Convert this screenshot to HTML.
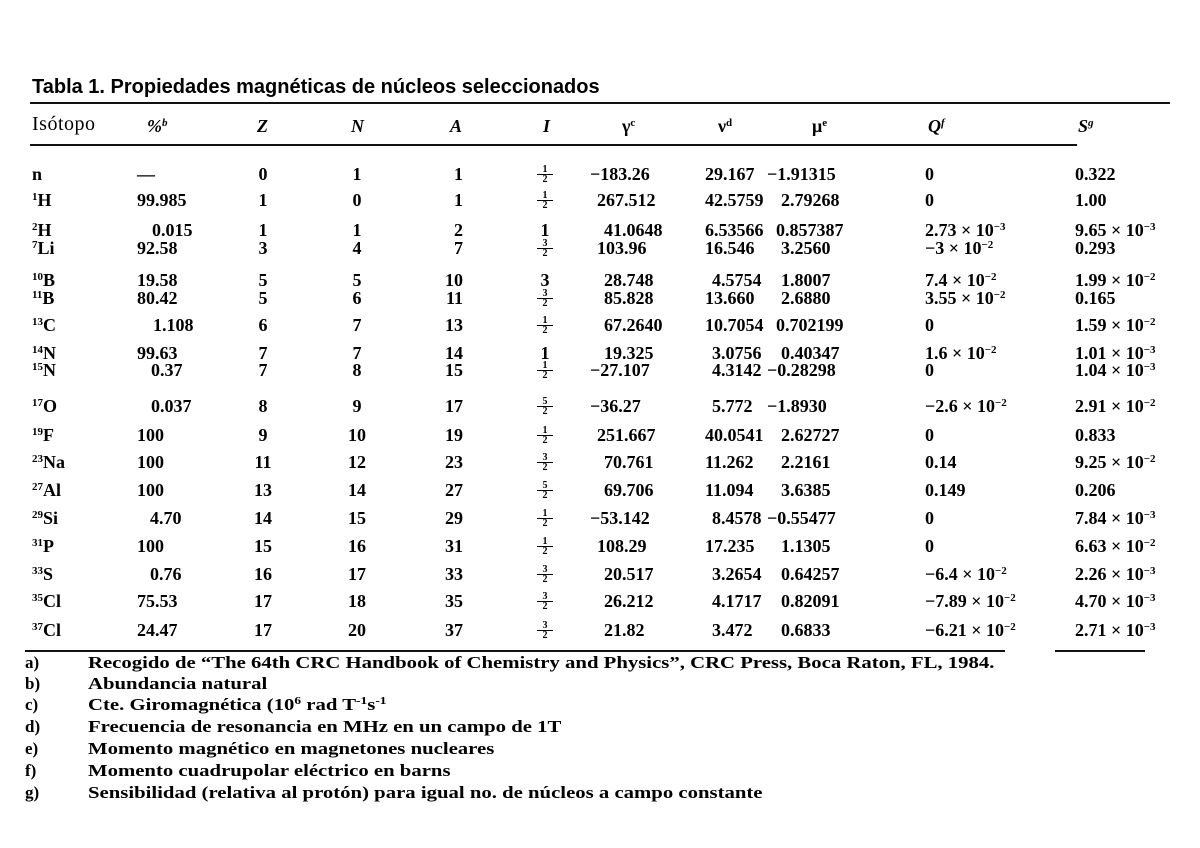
<!DOCTYPE html>
<html><head><meta charset="utf-8"><style>
body{margin:0;background:#fff;}
#c{position:relative;width:1200px;height:848px;background:#fff;overflow:hidden;font-family:"Liberation Serif",serif;font-weight:bold;font-size:18px;color:#000;}
#c div{position:absolute;white-space:nowrap;line-height:18px;}
.r{left:0;width:1200px;height:18px;}
.r span{position:absolute;top:0;white-space:nowrap;}
.z{left:243px;width:40px;text-align:center}
.n{left:337px;width:40px;text-align:center}
.a{left:423px;width:40px;text-align:right}
.f{left:537px;width:16px;text-align:center;font-size:10px;line-height:9px;}
.f b{display:block;border-top:1px solid #000;}
sup{font-size:11px;vertical-align:6px;line-height:0}
.ln{height:0;border-top:2px solid #111;}
.fn{font-size:17px;transform:scaleX(1.22);transform-origin:left;line-height:22px !important;}
.fl{font-size:17px;line-height:22px !important;}
</style></head><body><div id="c">
<div style="left:32px;top:78px;font-family:'Liberation Sans',sans-serif;font-size:20px;">Tabla 1. Propiedades magnéticas de núcleos seleccionados</div>
<div class="ln" style="left:30px;top:102px;width:1140px;"></div>
<div style="left:32px;top:115px;font-weight:normal;font-size:20px;letter-spacing:0.5px">Isótopo</div>
<div style="left:147px;top:117px;font-style:italic">%<sup>b</sup></div>
<div style="left:257px;top:117px;font-style:italic">Z</div>
<div style="left:351px;top:117px;font-style:italic">N</div>
<div style="left:450px;top:117px;font-style:italic">A</div>
<div style="left:543px;top:117px;font-style:italic">I</div>
<div style="left:622px;top:117px;">γ<sup>c</sup></div>
<div style="left:718px;top:117px;">ν<sup>d</sup></div>
<div style="left:812px;top:117px;">μ<sup>e</sup></div>
<div style="left:928px;top:117px;font-style:italic">Q<sup>f</sup></div>
<div style="left:1078px;top:117px;font-style:italic">S<sup>g</sup></div>
<div class="ln" style="left:30px;top:144px;width:1047px;"></div>

<div class="r" style="top:165px"><span style="left:32px">n</span><span style="left:137px">—</span><span class="z">0</span><span class="n">1</span><span class="a">1</span><span class="f">1<b>2</b></span><span style="left:590px">−183.26</span><span style="left:705px">29.167</span><span style="left:767px">−1.91315</span><span style="left:925px">0</span><span style="left:1075px">0.322</span></div>
<div class="r" style="top:191px"><span style="left:32px"><sup>1</sup>H</span><span style="left:137px">99.985</span><span class="z">1</span><span class="n">0</span><span class="a">1</span><span class="f">1<b>2</b></span><span style="left:597px">267.512</span><span style="left:705px">42.5759</span><span style="left:781px">2.79268</span><span style="left:925px">0</span><span style="left:1075px">1.00</span></div>
<div class="r" style="top:221px"><span style="left:32px"><sup>2</sup>H</span><span style="left:152px">0.015</span><span class="z">1</span><span class="n">1</span><span class="a">2</span><span class="f" style="font-size:18px;line-height:18px">1</span><span style="left:604px">41.0648</span><span style="left:705px">6.53566</span><span style="left:776px">0.857387</span><span style="left:925px">2.73 × 10<sup>−3</sup></span><span style="left:1075px">9.65 × 10<sup>−3</sup></span></div>
<div class="r" style="top:239px"><span style="left:32px"><sup>7</sup>Li</span><span style="left:137px">92.58</span><span class="z">3</span><span class="n">4</span><span class="a">7</span><span class="f">3<b>2</b></span><span style="left:597px">103.96</span><span style="left:705px">16.546</span><span style="left:781px">3.2560</span><span style="left:925px">−3 × 10<sup>−2</sup></span><span style="left:1075px">0.293</span></div>
<div class="r" style="top:271px"><span style="left:32px"><sup>10</sup>B</span><span style="left:137px">19.58</span><span class="z">5</span><span class="n">5</span><span class="a">10</span><span class="f" style="font-size:18px;line-height:18px">3</span><span style="left:604px">28.748</span><span style="left:712px">4.5754</span><span style="left:781px">1.8007</span><span style="left:925px">7.4 × 10<sup>−2</sup></span><span style="left:1075px">1.99 × 10<sup>−2</sup></span></div>
<div class="r" style="top:289px"><span style="left:32px"><sup>11</sup>B</span><span style="left:137px">80.42</span><span class="z">5</span><span class="n">6</span><span class="a">11</span><span class="f">3<b>2</b></span><span style="left:604px">85.828</span><span style="left:705px">13.660</span><span style="left:781px">2.6880</span><span style="left:925px">3.55 × 10<sup>−2</sup></span><span style="left:1075px">0.165</span></div>
<div class="r" style="top:316px"><span style="left:32px"><sup>13</sup>C</span><span style="left:153px">1.108</span><span class="z">6</span><span class="n">7</span><span class="a">13</span><span class="f">1<b>2</b></span><span style="left:604px">67.2640</span><span style="left:705px">10.7054</span><span style="left:776px">0.702199</span><span style="left:925px">0</span><span style="left:1075px">1.59 × 10<sup>−2</sup></span></div>
<div class="r" style="top:344px"><span style="left:32px"><sup>14</sup>N</span><span style="left:137px">99.63</span><span class="z">7</span><span class="n">7</span><span class="a">14</span><span class="f" style="font-size:18px;line-height:18px">1</span><span style="left:604px">19.325</span><span style="left:712px">3.0756</span><span style="left:781px">0.40347</span><span style="left:925px">1.6 × 10<sup>−2</sup></span><span style="left:1075px">1.01 × 10<sup>−3</sup></span></div>
<div class="r" style="top:361px"><span style="left:32px"><sup>15</sup>N</span><span style="left:151px">0.37</span><span class="z">7</span><span class="n">8</span><span class="a">15</span><span class="f">1<b>2</b></span><span style="left:590px">−27.107</span><span style="left:712px">4.3142</span><span style="left:767px">−0.28298</span><span style="left:925px">0</span><span style="left:1075px">1.04 × 10<sup>−3</sup></span></div>
<div class="r" style="top:397px"><span style="left:32px"><sup>17</sup>O</span><span style="left:151px">0.037</span><span class="z">8</span><span class="n">9</span><span class="a">17</span><span class="f">5<b>2</b></span><span style="left:590px">−36.27</span><span style="left:712px">5.772</span><span style="left:767px">−1.8930</span><span style="left:925px">−2.6 × 10<sup>−2</sup></span><span style="left:1075px">2.91 × 10<sup>−2</sup></span></div>
<div class="r" style="top:426px"><span style="left:32px"><sup>19</sup>F</span><span style="left:137px">100</span><span class="z">9</span><span class="n">10</span><span class="a">19</span><span class="f">1<b>2</b></span><span style="left:597px">251.667</span><span style="left:705px">40.0541</span><span style="left:781px">2.62727</span><span style="left:925px">0</span><span style="left:1075px">0.833</span></div>
<div class="r" style="top:453px"><span style="left:32px"><sup>23</sup>Na</span><span style="left:137px">100</span><span class="z">11</span><span class="n">12</span><span class="a">23</span><span class="f">3<b>2</b></span><span style="left:604px">70.761</span><span style="left:705px">11.262</span><span style="left:781px">2.2161</span><span style="left:925px">0.14</span><span style="left:1075px">9.25 × 10<sup>−2</sup></span></div>
<div class="r" style="top:481px"><span style="left:32px"><sup>27</sup>Al</span><span style="left:137px">100</span><span class="z">13</span><span class="n">14</span><span class="a">27</span><span class="f">5<b>2</b></span><span style="left:604px">69.706</span><span style="left:705px">11.094</span><span style="left:781px">3.6385</span><span style="left:925px">0.149</span><span style="left:1075px">0.206</span></div>
<div class="r" style="top:509px"><span style="left:32px"><sup>29</sup>Si</span><span style="left:150px">4.70</span><span class="z">14</span><span class="n">15</span><span class="a">29</span><span class="f">1<b>2</b></span><span style="left:590px">−53.142</span><span style="left:712px">8.4578</span><span style="left:767px">−0.55477</span><span style="left:925px">0</span><span style="left:1075px">7.84 × 10<sup>−3</sup></span></div>
<div class="r" style="top:537px"><span style="left:32px"><sup>31</sup>P</span><span style="left:137px">100</span><span class="z">15</span><span class="n">16</span><span class="a">31</span><span class="f">1<b>2</b></span><span style="left:597px">108.29</span><span style="left:705px">17.235</span><span style="left:781px">1.1305</span><span style="left:925px">0</span><span style="left:1075px">6.63 × 10<sup>−2</sup></span></div>
<div class="r" style="top:565px"><span style="left:32px"><sup>33</sup>S</span><span style="left:150px">0.76</span><span class="z">16</span><span class="n">17</span><span class="a">33</span><span class="f">3<b>2</b></span><span style="left:604px">20.517</span><span style="left:712px">3.2654</span><span style="left:781px">0.64257</span><span style="left:925px">−6.4 × 10<sup>−2</sup></span><span style="left:1075px">2.26 × 10<sup>−3</sup></span></div>
<div class="r" style="top:592px"><span style="left:32px"><sup>35</sup>Cl</span><span style="left:137px">75.53</span><span class="z">17</span><span class="n">18</span><span class="a">35</span><span class="f">3<b>2</b></span><span style="left:604px">26.212</span><span style="left:712px">4.1717</span><span style="left:781px">0.82091</span><span style="left:925px">−7.89 × 10<sup>−2</sup></span><span style="left:1075px">4.70 × 10<sup>−3</sup></span></div>
<div class="r" style="top:621px"><span style="left:32px"><sup>37</sup>Cl</span><span style="left:137px">24.47</span><span class="z">17</span><span class="n">20</span><span class="a">37</span><span class="f">3<b>2</b></span><span style="left:604px">21.82</span><span style="left:712px">3.472</span><span style="left:781px">0.6833</span><span style="left:925px">−6.21 × 10<sup>−2</sup></span><span style="left:1075px">2.71 × 10<sup>−3</sup></span></div>
<div class="ln" style="left:25px;top:650px;width:980px;"></div>
<div class="ln" style="left:1055px;top:650px;width:90px;"></div>

<div class="fl" style="left:25px;top:652px">a)</div><div class="fn" style="left:88px;top:652px">Recogido de “The 64th CRC Handbook of Chemistry and Physics”, CRC Press, Boca Raton, FL, 1984.</div>
<div class="fl" style="left:25px;top:673px">b)</div><div class="fn" style="left:88px;top:673px">Abundancia natural</div>
<div class="fl" style="left:25px;top:694px">c)</div><div class="fn" style="left:88px;top:694px">Cte. Giromagnética (10<sup>6</sup> rad T<sup>-1</sup>s<sup>-1</sup></div>
<div class="fl" style="left:25px;top:716px">d)</div><div class="fn" style="left:88px;top:716px">Frecuencia de resonancia en MHz en un campo de 1T</div>
<div class="fl" style="left:25px;top:738px">e)</div><div class="fn" style="left:88px;top:738px">Momento magnético en magnetones nucleares</div>
<div class="fl" style="left:25px;top:760px">f)</div><div class="fn" style="left:88px;top:760px">Momento cuadrupolar eléctrico en barns</div>
<div class="fl" style="left:25px;top:782px">g)</div><div class="fn" style="left:88px;top:782px">Sensibilidad (relativa al protón) para igual no. de núcleos a campo constante</div>
</div></body></html>
